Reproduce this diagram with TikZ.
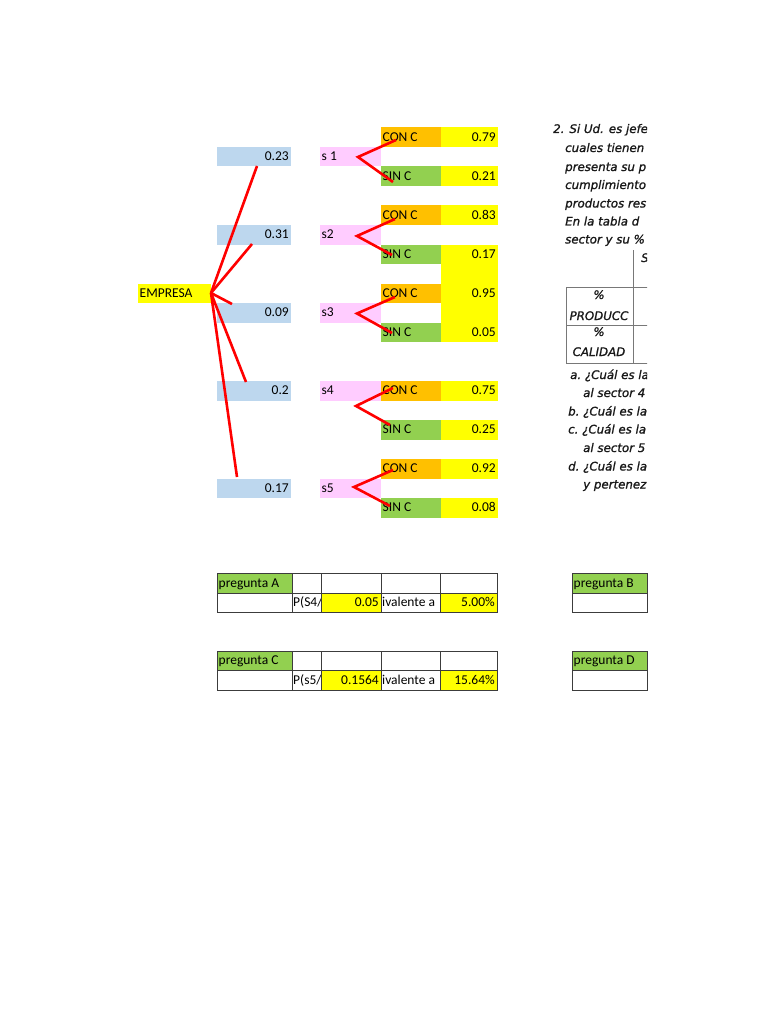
\documentclass[tikz,border=0pt]{standalone}
\usepackage{fontspec}
\setmainfont{Carlito}
\newfontfamily\handfont[FakeBold=1.2]{DejaVu Sans}
\definecolor{xblue}{RGB}{189,215,238}
\definecolor{xpink}{RGB}{255,204,255}
\definecolor{xorange}{RGB}{255,192,0}
\definecolor{xgreen}{RGB}{146,208,80}
\definecolor{xyellow}{RGB}{255,255,0}
\definecolor{xgrid}{RGB}{60,60,60}
\definecolor{xred}{RGB}{255,0,0}
\definecolor{xtab}{RGB}{120,120,120}
\definecolor{handink}{RGB}{25,25,25}
\tikzset{
  box/.style={rectangle, anchor=north west, inner sep=0pt, outer sep=0pt},
  gbox/.style={box, draw=xgrid, line width=0.9pt},
  txt/.style={inner sep=0pt, font=\fontsize{13.5}{16}\selectfont, text height=11pt, text depth=3pt},
  redline/.style={draw=xred, line width=2.6pt},
  hand/.style={inner sep=0pt, anchor=base west, font=\handfont\itshape\fontsize{11.8}{14}\selectfont, text=handink},
  handc/.style={hand, anchor=base},
  tabline/.style={draw=xtab, line width=1pt},
}
% name, x, y, w, h, fill, text
\newcommand\cellR[7]{\node[box,fill=#6,minimum width=#4pt,minimum height=#5pt] (#1) at (#2,#3) {};
  \node[txt,anchor=east] (#1t) at ([xshift=-2pt]#1.east) {#7};}
\newcommand\cellL[7]{\node[box,fill=#6,minimum width=#4pt,minimum height=#5pt] (#1) at (#2,#3) {};
  \node[txt,anchor=west] (#1t) at ([xshift=1.5pt]#1.west) {#7};}
% grid cells: name, x, y, w, h, fill
\newcommand\gcell[6]{\node[gbox,fill=#6,minimum width=#4pt,minimum height=#5pt] (#1) at (#2,#3) {};}
\begin{document}
\begin{tikzpicture}[x=1pt,y=-1pt]
\useasboundingbox[fill=white] (0,0) rectangle (768,1024);

% ---- EMPRESA
\cellL{emp}{138}{283.5}{73}{19.5}{xyellow}{EMPRESA}

% ---- probabilities (blue)
\cellR{b1}{217}{147}{74}{19.5}{xblue}{0.23}
\cellR{b2}{217}{225}{74}{19.5}{xblue}{0.31}
\cellR{b3}{217}{303}{74}{19.5}{xblue}{0.09}
\cellR{b4}{217}{381}{74}{19.5}{xblue}{0.2}
\cellR{b5}{217}{478.5}{74}{19.5}{xblue}{0.17}

% ---- sectors (pink)
\cellL{p1}{320}{147}{61}{19.5}{xpink}{s 1}
\cellL{p2}{320}{225}{61}{19.5}{xpink}{s2}
\cellL{p3}{320}{303}{61}{19.5}{xpink}{s3}
\cellL{p4}{320}{381}{61}{19.5}{xpink}{s4}
\cellL{p5}{320}{478.5}{61}{19.5}{xpink}{s5}

% ---- CON C (orange) / SIN C (green)
\cellL{c1}{381}{127.5}{60}{19.5}{xorange}{CON C}
\cellL{c2}{381}{205.5}{60}{19.5}{xorange}{CON C}
\cellL{c3}{381}{283.5}{60}{19.5}{xorange}{CON C}
\cellL{c4}{381}{381}{60}{19.5}{xorange}{CON C}
\cellL{c5}{381}{459}{60}{19.5}{xorange}{CON C}
\cellL{n1}{381}{166.5}{60}{19.5}{xgreen}{SIN C}
\cellL{n2}{381}{244.5}{60}{19.5}{xgreen}{SIN C}
\cellL{n3}{381}{322.5}{60}{19.5}{xgreen}{SIN C}
\cellL{n4}{381}{420}{60}{19.5}{xgreen}{SIN C}
\cellL{n5}{381}{498}{60}{19.5}{xgreen}{SIN C}

% ---- conditional probabilities (yellow)
\cellR{y1}{441}{127.5}{57}{19.5}{xyellow}{0.79}
\cellR{y2}{441}{166.5}{57}{19.5}{xyellow}{0.21}
\cellR{y3}{441}{205.5}{57}{19.5}{xyellow}{0.83}
\node[box,fill=xyellow,minimum width=57pt,minimum height=97.5pt] (yb) at (441,244.5) {};
\node[txt,anchor=east] (y4t) at (496,254.25) {0.17};
\node[txt,anchor=east] (y5t) at (496,293.25) {0.95};
\node[txt,anchor=east] (y6t) at (496,332.25) {0.05};
\cellR{y7}{441}{381}{57}{19.5}{xyellow}{0.75}
\cellR{y8}{441}{420}{57}{19.5}{xyellow}{0.25}
\cellR{y9}{441}{459}{57}{19.5}{xyellow}{0.92}
\cellR{y10}{441}{498}{57}{19.5}{xyellow}{0.08}

% ---- red tree connectors
\coordinate (hub) at (211,293);
\coordinate (e1) at (257,166);
\coordinate (e2) at (252,244);
\coordinate (e3) at (232,304);
\coordinate (e4) at (246,382);
\coordinate (e5) at (237,477);
\draw[redline] (hub) -- (e1);
\draw[redline] (hub) -- (e2);
\draw[redline] (hub) -- (e3);
\draw[redline] (hub) -- (e4);
\draw[redline] (hub) -- (e5);

\coordinate (v1) at (358,157);   \coordinate (ce1) at (396,140); \coordinate (se1) at (393,182);
\coordinate (v2) at (357,236);   \coordinate (ce2) at (395,219); \coordinate (se2) at (392,255);
\coordinate (v3) at (357,313.5); \coordinate (ce3) at (395,297); \coordinate (se3) at (392,333);
\coordinate (v4) at (356,406);   \coordinate (ce4) at (393,388); \coordinate (se4) at (390,425);
\coordinate (v5) at (354,487);   \coordinate (ce5) at (393,470); \coordinate (se5) at (390,506);
\draw[redline] (ce1) -- (v1) -- (se1);
\draw[redline] (ce2) -- (v2) -- (se2);
\draw[redline] (ce3) -- (v3) -- (se3);
\draw[redline] (ce4) -- (v4) -- (se4);
\draw[redline] (ce5) -- (v5) -- (se5);

% ---- bottom tables
% pregunta A
\gcell{qa}{217}{573.5}{75}{19.5}{xgreen}
\node[txt,anchor=west] (qat) at ([xshift=1.5pt]qa.west) {pregunta A};
\gcell{qa2}{292}{573.5}{29}{19.5}{white}
\gcell{qa3}{321}{573.5}{60}{19.5}{white}
\gcell{qa4}{381}{573.5}{59}{19.5}{white}
\gcell{qa5}{440}{573.5}{57}{19.5}{white}
\gcell{ra1}{217}{593}{75}{19.5}{white}
\gcell{ra2}{292}{593}{29}{19.5}{white}
\gcell{ra3}{321}{593}{60}{19.5}{xyellow}
\gcell{ra4}{381}{593}{59}{19.5}{white}
\gcell{ra5}{440}{593}{57}{19.5}{xyellow}
\begin{scope}
\clip (292,593) rectangle (320.5,612.5);
\node[txt,anchor=west] (ra2t) at ([xshift=1pt]ra2.west) {P(S4/};
\end{scope}
\node[txt,anchor=east] (ra3t) at ([xshift=-2pt]ra3.east) {0.05};
\node[txt,anchor=west] (ra4t) at ([xshift=1pt]ra4.west) {ivalente a};
\node[txt,anchor=east] (ra5t) at ([xshift=-2pt]ra5.east) {5.00\%};

% pregunta C
\gcell{qc}{217}{651}{75}{19.5}{xgreen}
\node[txt,anchor=west] (qct) at ([xshift=1.5pt]qc.west) {pregunta C};
\gcell{qc2}{292}{651}{29}{19.5}{white}
\gcell{qc3}{321}{651}{60}{19.5}{white}
\gcell{qc4}{381}{651}{59}{19.5}{white}
\gcell{qc5}{440}{651}{57}{19.5}{white}
\gcell{rc1}{217}{670.5}{75}{19.5}{white}
\gcell{rc2}{292}{670.5}{29}{19.5}{white}
\gcell{rc3}{321}{670.5}{60}{19.5}{xyellow}
\gcell{rc4}{381}{670.5}{59}{19.5}{white}
\gcell{rc5}{440}{670.5}{57}{19.5}{xyellow}
\begin{scope}
\clip (292,670.5) rectangle (320.5,690);
\node[txt,anchor=west] (rc2t) at ([xshift=1pt]rc2.west) {P(s5/};
\end{scope}
\node[txt,anchor=east] (rc3t) at ([xshift=-2pt]rc3.east) {0.1564};
\node[txt,anchor=west] (rc4t) at ([xshift=1pt]rc4.west) {ivalente a};
\node[txt,anchor=east] (rc5t) at ([xshift=-2pt]rc5.east) {15.64\%};

% pregunta B / D
\gcell{qb}{572}{573.5}{75}{19.5}{xgreen}
\node[txt,anchor=west] (qbt) at ([xshift=1.5pt]qb.west) {pregunta B};
\gcell{rb}{572}{593}{75}{19.5}{white}
\gcell{qd}{572}{651}{75}{19.5}{xgreen}
\node[txt,anchor=west] (qdt) at ([xshift=1.5pt]qd.west) {pregunta D};
\gcell{rd}{572}{670.5}{75}{19.5}{white}

% ---- pasted problem statement (clipped at the column edge)
\begin{scope}
\clip (540,100) rectangle (647,510);
\node[hand] (h1) at (553,133) {2. Si Ud. es jefe};
\node[hand] (h2) at (565,152) {cuales tienen};
\node[hand] (h3) at (565,171) {presenta su p};
\node[hand] (h4) at (565,189) {cumplimiento};
\node[hand] (h5) at (565,207.5) {productos res};
\node[hand] (h6) at (565,225.5) {En la tabla d};
\node[hand] (h7) at (565,243.5) {sector y su \%};
\draw[tabline] (633,250) -- (633,363);
\draw[tabline] (566,287) -- (650,287);
\draw[tabline] (566,325) -- (650,325);
\draw[tabline] (566,363) -- (650,363);
\draw[tabline] (566,287) -- (566,363);
\node[hand] (hs) at (641,262) {S};
\node[handc] (hp1) at (599,299) {\%};
\node[handc] (hp2) at (599,320) {PRODUCC};
\node[handc] (hc1) at (599,336) {\%};
\node[handc] (hc2) at (599,356) {CALIDAD};
\node[hand] (ha) at (570,379) {a.\ ¿Cuál es la};
\node[hand] (ha2) at (583,397) {al sector 4};
\node[hand] (hb) at (568,415.5) {b.\ ¿Cuál es la};
\node[hand] (hc) at (568,433.5) {c.\ ¿Cuál es la};
\node[hand] (hc3) at (583,452) {al sector 5};
\node[hand] (hd) at (568,470.5) {d.\ ¿Cuál es la};
\node[hand] (hd2) at (583,488.5) {y pertenez};
\end{scope}
\end{tikzpicture}
\end{document}
